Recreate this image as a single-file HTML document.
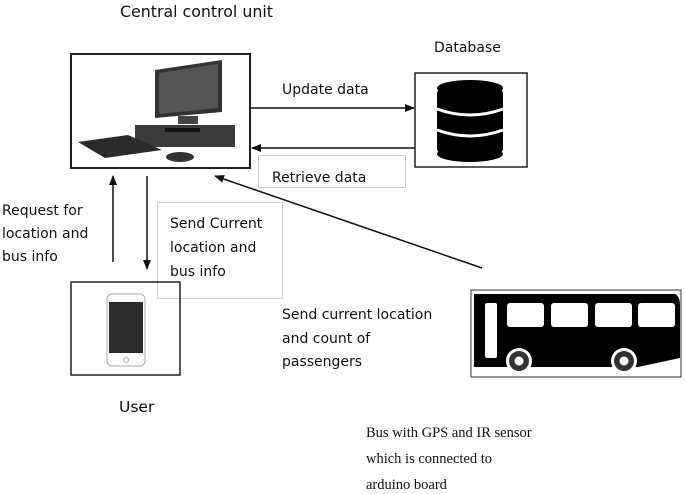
<!DOCTYPE html>
<html><head><style>
body{margin:0;width:685px;height:492px;background:#fff;position:relative;overflow:hidden;font-family:"DejaVu Sans","Liberation Sans",sans-serif;color:#111}
.t{position:absolute;font-size:14px;line-height:23px;white-space:nowrap}
.s{position:absolute;font-family:"Liberation Serif",serif;font-size:14.5px;white-space:nowrap}
</style></head><body>
<div class="t" style="left:120px;top:0px;font-size:15.8px">Central control unit</div>
<div class="t" style="left:434px;top:37px">Database</div>
<div class="t" style="left:282px;top:79px">Update data</div>
<div style="position:absolute;left:258px;top:155px;width:148px;height:33px;border:1px solid #ccc;box-sizing:border-box"></div>
<div class="t" style="left:272px;top:167px">Retrieve data</div>
<div class="t" style="left:2px;top:200px;line-height:23px">Request for<br>location and<br>bus info</div>
<div style="position:absolute;left:157px;top:202px;width:126px;height:97px;border:1px solid #ccc;box-sizing:border-box;background:#fff"></div>
<div class="t" style="left:170px;top:212px;line-height:24px">Send Current<br>location and<br>bus info</div>
<div class="t" style="left:282px;top:304px;line-height:23.5px">Send current location<br>and count of<br>passengers</div>
<div class="t" style="left:119px;top:396px;font-size:15.5px">User</div>
<div class="s" style="left:366px;top:425px">Bus with GPS and IR sensor</div>
<div class="s" style="left:366px;top:451px">which is connected to</div>
<div class="s" style="left:366px;top:477px">arduino board</div>
<svg width="685" height="492" style="position:absolute;left:0;top:0">
<defs><marker id="a" markerWidth="10" markerHeight="8" refX="9" refY="4" orient="auto" markerUnits="userSpaceOnUse"><path d="M0,0L10,4L0,8z" fill="#111"/></marker></defs>
<rect x="71" y="54" width="179" height="114" fill="none" stroke="#222" stroke-width="2"/>
<!-- computer -->
<polygon points="155,70 222,60 222,112 155,118" fill="#333"/>
<polygon points="159,73 218,64 218,108 159,114" fill="#555"/>
<rect x="178" y="116" width="20" height="8" fill="#444"/>
<rect x="135" y="125" width="100" height="22" fill="#3a3a3a"/>
<rect x="165" y="128" width="35" height="4" fill="#111"/>
<polygon points="78,142 128,135 162,150 105,158" fill="#2a2a2a"/>
<ellipse cx="180" cy="157" rx="14" ry="5" fill="#333"/>
<!-- database -->
<rect x="415" y="73" width="112" height="94" fill="none" stroke="#222" stroke-width="1.5"/>
<rect x="437" y="88" width="66" height="66" rx="6" fill="#000"/>
<ellipse cx="470" cy="88" rx="33" ry="8" fill="#000"/>
<ellipse cx="470" cy="154" rx="33" ry="8" fill="#000"/>
<path d="M437,109 Q470,121 503,109 M437,130 Q470,142 503,130" stroke="#fff" stroke-width="3" fill="none"/>
<!-- arrows -->
<line x1="250" y1="108" x2="414" y2="108" stroke="#111" stroke-width="1.5" marker-end="url(#a)"/>
<line x1="415" y1="148" x2="252" y2="148" stroke="#111" stroke-width="1.5" marker-end="url(#a)"/>
<line x1="113" y1="262" x2="113" y2="176" stroke="#111" stroke-width="1.5" marker-end="url(#a)"/>
<line x1="147" y1="176" x2="147" y2="269" stroke="#111" stroke-width="1.5" marker-end="url(#a)"/>
<line x1="482" y1="268" x2="215" y2="176" stroke="#111" stroke-width="1.5" marker-end="url(#a)"/>
<!-- phone -->
<rect x="71" y="282" width="109" height="93" fill="none" stroke="#222" stroke-width="1.5"/>
<rect x="107" y="294" width="38" height="72" rx="5" fill="#fff" stroke="#aaa"/>
<rect x="109" y="302" width="34" height="51" fill="#2b2b2b"/>
<circle cx="126" cy="360" r="2.5" fill="none" stroke="#aaa"/>
<!-- bus -->
<rect x="471" y="290" width="210" height="87" fill="none" stroke="#333" stroke-width="1"/>
<path d="M474,294 H675 Q680,296 680,306 V358 L638,367 H474 Z" fill="#000"/>
<rect x="485" y="303" width="12" height="55" rx="2" fill="#fff"/>
<rect x="507" y="303" width="37" height="24" rx="3" fill="#fff"/>
<rect x="551" y="303" width="37" height="24" rx="3" fill="#fff"/>
<rect x="595" y="303" width="37" height="24" rx="3" fill="#fff"/>
<rect x="638" y="303" width="37" height="24" rx="3" fill="#fff"/>
<circle cx="519" cy="361" r="13" fill="#fff"/><circle cx="519" cy="361" r="10" fill="#333"/><circle cx="519" cy="361" r="4.5" fill="#fff"/>
<circle cx="624" cy="361" r="13" fill="#fff"/><circle cx="624" cy="361" r="10" fill="#333"/><circle cx="624" cy="361" r="4.5" fill="#fff"/>
</svg>
</body></html>
